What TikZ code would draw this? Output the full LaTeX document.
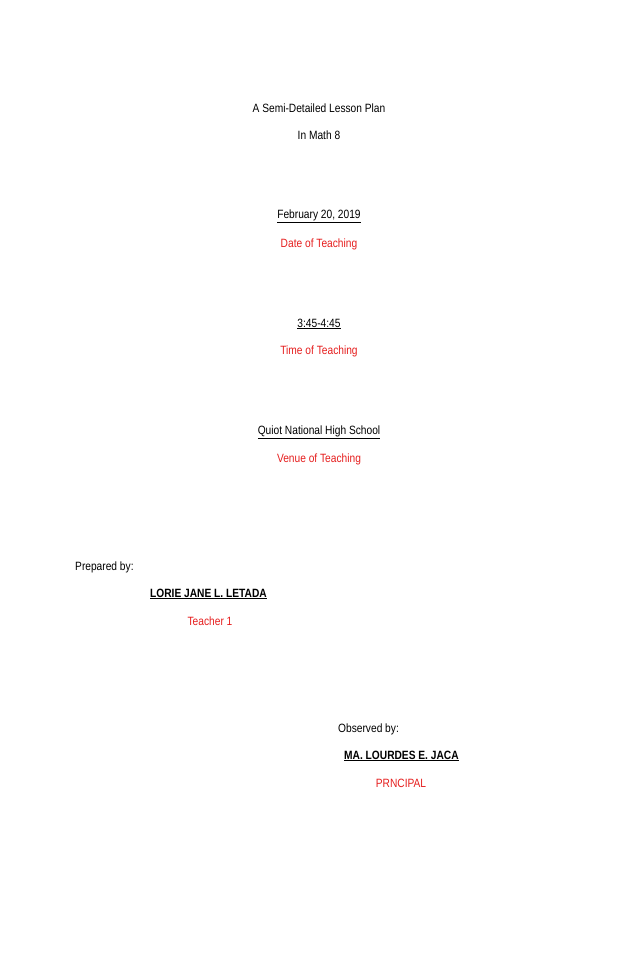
\documentclass[tikz,border=0pt]{standalone}
\usepackage{fontspec}
\setmainfont[FakeStretch=0.85]{Liberation Sans}
\definecolor{redtxt}{RGB}{230,30,30}
\begin{document}
\begin{tikzpicture}[x=1pt,y=-1pt,
  txt/.style={inner sep=0pt,font=\fontsize{12}{14}\selectfont},
  red/.style={txt,text=redtxt}]
\useasboundingbox[fill=white] (0,0) rectangle (638,976);
\node[txt] (t1) at (319,108) {A Semi-Detailed Lesson Plan};
\node[txt] (t2) at (319,135) {In Math 8};
\node[txt] (d) at (319,216) {\underline{February 20, 2019}};
\node[red] (dl) at (319,244) {Date of Teaching};
\node[txt] (tm) at (319,324) {\underline{3:45-4:45}};
\node[red] (tml) at (319,351) {Time of Teaching};
\node[txt] (v) at (319,432) {\underline{Quiot National High School}};
\node[red] (vl) at (319,459) {Venue of Teaching};
\node[txt,anchor=west] (p) at (75,567) {Prepared by:};
\node[txt,anchor=west,font=\fontsize{12}{14}\selectfont\bfseries] (pn) at (150,594) {\underline{LORIE JANE L. LETADA}};
\node[red] (pt) at (210,621) {Teacher 1};
\node[txt,anchor=west] (o) at (338,729) {Observed by:};
\node[txt,anchor=west,font=\fontsize{12}{14}\selectfont\bfseries] (on) at (344,756) {\underline{MA. LOURDES E. JACA}};
\node[red] (ot) at (401,783) {PRNCIPAL};
\end{tikzpicture}
\end{document}
